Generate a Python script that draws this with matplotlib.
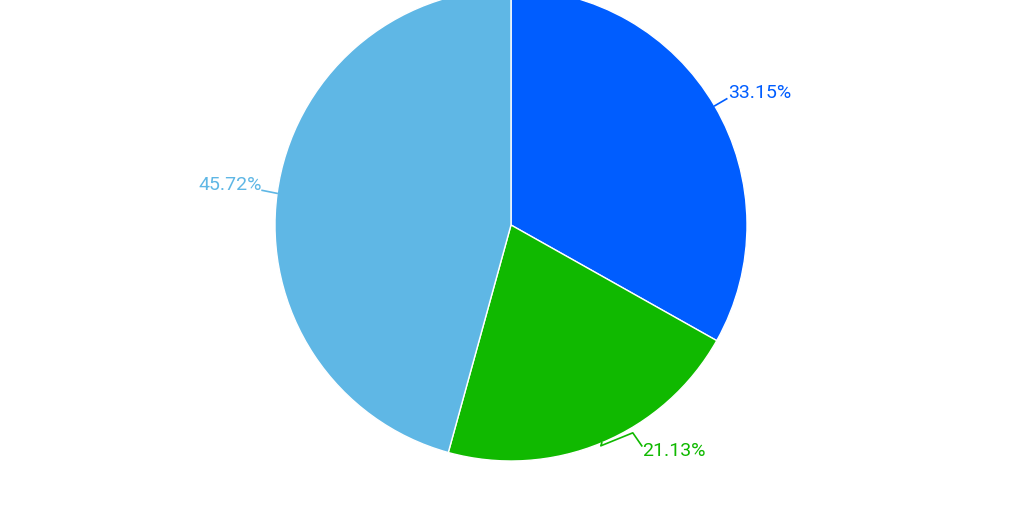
import numpy as np
import matplotlib.pyplot as plt

# data
labels = ['33.15%', '21.13%', '45.72%']
shares = [33.15, 21.13, 45.72]
colors = ['#005DFF', '#10B900', '#5FB7E5']

plt.rcParams['font.family'] = ['Roboto', 'DejaVu Sans']

fig = plt.figure(figsize=(10.24, 5.12), dpi=100)
ax = fig.add_axes([0, 0, 1, 1])

cx, cy, r = 511, 287, 236
ax.pie(shares, colors=colors, startangle=90, counterclock=False,
       center=(cx, cy), radius=r, frame=True,
       wedgeprops=dict(edgecolor='white', linewidth=1))
ax.set_xlim(0, 1024)
ax.set_ylim(0, 512)
ax.set_aspect('equal')
ax.axis('off')

# leader lines and labels
cum = np.cumsum([0] + shares)
# (elbow offsets from the edge point, text offset, ha)
leaders = [
    ([(12, 7)], (13, 13), 'left'),
    ([(-1, -3), (31, 10), (40, -3)], (40, -8), 'left'),
    ([(-15, 3)], (-15, 8), 'right'),
]
for i, lab in enumerate(labels):
    mid = 90 - (cum[i] + shares[i] / 2) * 3.6
    a = np.deg2rad(mid)
    ex, ey = cx + r * np.cos(a), cy + r * np.sin(a)
    pts, toff, ha = leaders[i]
    xs = [ex] + [ex + dx for dx, dy in pts]
    ys = [ey] + [ey + dy for dx, dy in pts]
    ax.plot(xs, ys, color=colors[i], linewidth=1.2)
    ax.text(ex + toff[0], ey + toff[1], lab, color=colors[i], fontsize=14,
            ha=ha, va='center')

fig.savefig('out.png', dpi=100)
